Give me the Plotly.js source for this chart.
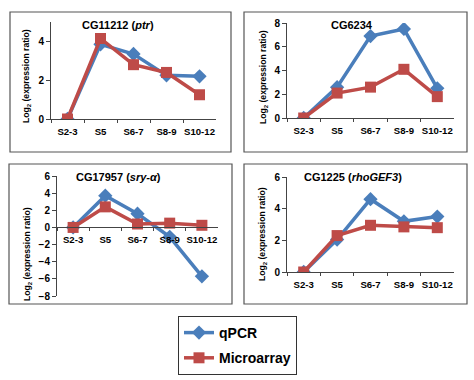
<!DOCTYPE html>
<html><head><meta charset="utf-8">
<script src="https://cdn.plot.ly/plotly-3.0.1.min.js"></script>
<style>html,body{margin:0;padding:0;background:#fff;}#chart{width:474px;height:380px;}</style>
</head><body><div id="chart"></div>
<script>
const stages = ["S2-3", "S5", "S6-7", "S8-9", "S10-12"];
const genes = ["CG11212 (<i>ptr</i>)", "CG6234", "CG17957 (<i>sry-α</i>)", "CG1225 (<i>rhoGEF3</i>)"];
const qpcr_ptr = [0, 3.85, 3.35, 2.25, 2.2];
const micro_ptr = [0, 4.15, 2.8, 2.4, 1.25];
const qpcr_6234 = [0, 2.6, 6.9, 7.5, 2.5];
const micro_6234 = [0, 2.1, 2.6, 4.1, 1.8];
const qpcr_sry = [0, 3.7, 1.6, -1.1, -5.7];
const micro_sry = [0, 2.4, 0.4, 0.5, 0.25];
const qpcr_rho = [0, 2.05, 4.6, 3.2, 3.5];
const micro_rho = [0, 2.3, 2.95, 2.85, 2.8];

const W = 474, H = 380;
const px = v => v / W, py = v => 1 - v / H;
const FONT = "Arial, 'Liberation Sans', sans-serif";
const BLUE = "#4a7ebb", RED = "#be4b48";

const qSets = [qpcr_ptr, qpcr_6234, qpcr_sry, qpcr_rho];
const mSets = [micro_ptr, micro_6234, micro_sry, micro_rho];
const traces = [];
for (let i = 0; i < 4; i++) {
  const s = i === 0 ? "" : String(i + 1);
  traces.push({x: stages, y: qSets[i], xaxis: "x" + s, yaxis: "y" + s, type: "scatter", mode: "lines+markers",
    name: "qPCR", legendgroup: "q", showlegend: i === 0,
    line: {color: BLUE, width: 3.5}, marker: {symbol: "diamond", size: 11, color: BLUE}});
}
for (let i = 0; i < 4; i++) {
  const s = i === 0 ? "" : String(i + 1);
  traces.push({x: stages, y: mSets[i], xaxis: "x" + s, yaxis: "y" + s, type: "scatter", mode: "lines+markers",
    name: "Microarray", legendgroup: "m", showlegend: i === 0,
    line: {color: RED, width: 3.5}, marker: {symbol: "square", size: 11, color: RED}});
}

const panels = [
  {xd: [51, 216], yd: [119, 22], yr: [0, 5], box: [10, 12, 231, 152], title: [118, 25], yt: [27, 76], xpos: null},
  {xd: [287, 454], yd: [118, 23], yr: [0, 8], box: [244, 12, 467, 152], title: [352, 25], yt: [264, 77], xpos: null},
  {xd: [57, 218], yd: [296, 176], yr: [-8, 6], box: [9, 164, 232, 304], title: [118, 177], yt: [27, 254], xpos: 227},
  {xd: [287, 454], yd: [272, 177], yr: [0, 6], box: [244, 164, 467, 304], title: [353, 177], yt: [262, 234], xpos: null}
];

const layout = {
  width: W, height: H, margin: {l: 0, r: 0, t: 0, b: 0},
  paper_bgcolor: "#fff", plot_bgcolor: "rgba(0,0,0,0)",
  font: {family: FONT, size: 10, color: "#000"},
  showlegend: true,
  legend: {x: px(178), y: py(316), xanchor: "left", yanchor: "top", bordercolor: "#333", borderwidth: 1,
    font: {family: FONT, size: 14, color: "#000", weight: "bold"}, traceorder: "grouped", tracegroupgap: 4,
    itemwidth: 30},
  shapes: [], annotations: []
};

panels.forEach((p, i) => {
  const s = i === 0 ? "" : String(i + 1);
  const xa = {
    type: "category", range: [-0.5, 4.5], domain: [px(p.xd[0]), px(p.xd[1])],
    showgrid: false, zeroline: false, showline: true, linecolor: "#444", linewidth: 1,
    ticks: "outside", tickson: "boundaries", ticklen: 3, tickcolor: "#444", tickangle: 0,
    ticklabelstandoff: 3, tickfont: {family: FONT, size: 9.6, weight: "bold"},
    fixedrange: true
  };
  if (p.xpos !== null) { xa.anchor = "free"; xa.position = py(p.xpos); } else { xa.anchor = "y" + s; }
  layout["xaxis" + s] = xa;
  layout["yaxis" + s] = {
    range: p.yr, domain: [py(p.yd[0]), py(p.yd[1])], anchor: "x" + s, dtick: 2,
    showgrid: false, zeroline: false, showline: true, linecolor: "#444", linewidth: 1,
    ticks: "outside", ticklen: 4, tickcolor: "#444", ticklabelstandoff: 0,
    tickfont: {family: FONT, size: 10, weight: "bold"},
    fixedrange: true
  };
  layout.shapes.push({type: "rect", xref: "paper", yref: "paper",
    x0: px(p.box[0]), x1: px(p.box[2]), y0: py(p.box[3]), y1: py(p.box[1]),
    line: {color: "#555", width: 1.2}, fillcolor: "rgba(0,0,0,0)", layer: "below"});
  layout.annotations.push({text: genes[i], xref: "paper", yref: "paper",
    x: px(p.title[0]), y: py(p.title[1]), xanchor: "center", yanchor: "middle", showarrow: false,
    font: {family: FONT, size: 11, color: "#000", weight: "bold"}});
  layout.annotations.push({text: "Log<sub>2</sub> (expression ratio)", xref: "paper", yref: "paper",
    x: px(p.yt[0]), y: py(p.yt[1]), xanchor: "center", yanchor: "middle", textangle: -90, showarrow: false,
    font: {family: FONT, size: 8.6, color: "#000", weight: "bold"}});
});

Plotly.newPlot("chart", traces, layout, {displayModeBar: false, staticPlot: true});
</script>
</body></html>
